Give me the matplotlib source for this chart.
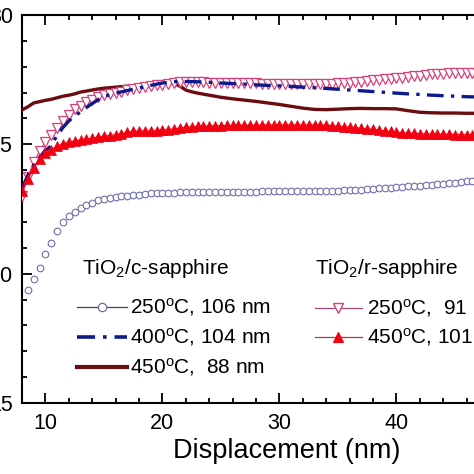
import matplotlib
matplotlib.use("Agg")
import matplotlib.pyplot as plt
from matplotlib.lines import Line2D
from matplotlib.ticker import MultipleLocator

plt.rcParams['font.family'] = ['Liberation Sans', 'DejaVu Sans']
plt.rcParams['mathtext.fontset'] = 'custom'
plt.rcParams['mathtext.rm'] = 'Liberation Sans'
plt.rcParams['mathtext.it'] = 'Liberation Sans:italic'
plt.rcParams['mathtext.bf'] = 'Liberation Sans:bold'

# ---------------- data ----------------
GRID = [8.0, 8.5, 9.0, 9.5, 10.0, 10.5, 11.0, 11.5, 12.0, 12.5, 13.0, 13.5, 14.0, 14.5,
        15.0, 15.5, 16.0, 16.5, 17.0, 17.5, 18.0, 18.5, 19.0, 19.5, 20.0, 20.5, 21.0, 21.5,
        22.0, 22.5, 23.0, 23.5, 24.0, 24.5, 25.0, 25.5, 26.0, 26.5, 27.0, 27.5, 28.0, 28.5,
        29.0, 29.5, 30.0, 30.5, 31.0, 31.5, 32.0, 32.5, 33.0, 33.5, 34.0, 34.5, 35.0, 35.5,
        36.0, 36.5, 37.0, 37.5, 38.0, 38.5, 39.0, 39.5, 40.0, 40.5, 41.0, 41.5, 42.0, 42.5,
        43.0, 43.5, 44.0, 44.5, 45.0, 45.5, 46.0, 46.5, 47.0]

# TiO2/c-sapphire 250C, 106 nm (open circles) - starts at 8.5
c250_x = GRID[1:]
c250_y = [19.35, 19.78, 20.20, 20.75, 21.20, 21.65, 22.00, 22.22, 22.40,
          22.54, 22.65, 22.75, 22.83, 22.88, 22.93, 22.97, 23.00, 23.02,
          23.04, 23.06, 23.08, 23.10, 23.11, 23.12, 23.13, 23.13, 23.14,
          23.14, 23.15, 23.15, 23.15, 23.16, 23.16, 23.16, 23.17, 23.17,
          23.17, 23.17, 23.17, 23.17, 23.18, 23.18, 23.18, 23.18, 23.18,
          23.18, 23.18, 23.19, 23.19, 23.19, 23.20, 23.20, 23.21, 23.21,
          23.22, 23.23, 23.24, 23.25, 23.27, 23.28, 23.30, 23.31, 23.33,
          23.34, 23.35, 23.37, 23.38, 23.40, 23.42, 23.44, 23.46, 23.48,
          23.50, 23.52, 23.55, 23.58, 23.60, 23.62]

# TiO2/r-sapphire 250C, 91 nm (open down triangles)
r250_x = GRID
r250_y = [23.00, 23.75, 24.30, 24.75, 25.10, 25.35, 25.65, 25.90, 26.15,
          26.35, 26.50, 26.62, 26.73, 26.83, 26.91, 26.96, 27.00, 27.04,
          27.10, 27.15, 27.19, 27.22, 27.25, 27.28, 27.30, 27.33, 27.37,
          27.40, 27.42, 27.42, 27.41, 27.40, 27.39, 27.38, 27.38, 27.37,
          27.37, 27.37, 27.36, 27.36, 27.36, 27.35, 27.35, 27.35, 27.34,
          27.34, 27.34, 27.34, 27.33, 27.33, 27.33, 27.33, 27.34, 27.35,
          27.36, 27.37, 27.39, 27.40, 27.42, 27.45, 27.47, 27.49, 27.51,
          27.53, 27.55, 27.58, 27.60, 27.63, 27.65, 27.68, 27.70, 27.71,
          27.73, 27.74, 27.75, 27.75, 27.76, 27.76, 27.77]

# TiO2/r-sapphire 450C, 101 nm (filled up triangles)
r450_x = GRID
r450_y = [23.20, 23.65, 24.10, 24.45, 24.65, 24.80, 24.92, 25.03, 25.08,
          25.13, 25.17, 25.20, 25.24, 25.28, 25.31, 25.34, 25.37, 25.41,
          25.46, 25.50, 25.52, 25.52, 25.52, 25.53, 25.55, 25.57, 25.60,
          25.63, 25.66, 25.68, 25.69, 25.70, 25.71, 25.72, 25.72, 25.73,
          25.73, 25.73, 25.74, 25.74, 25.74, 25.74, 25.75, 25.75, 25.75,
          25.75, 25.75, 25.75, 25.75, 25.75, 25.75, 25.75, 25.74, 25.72,
          25.70, 25.68, 25.66, 25.64, 25.62, 25.60, 25.58, 25.55, 25.52,
          25.50, 25.47, 25.45, 25.43, 25.42, 25.41, 25.41, 25.40, 25.40,
          25.39, 25.39, 25.38, 25.38, 25.37, 25.37, 25.36]

# TiO2/c-sapphire 400C, 104 nm (dash-dot)
c400_x = [8.0, 8.5, 9.0, 9.5, 10.0, 10.5, 11.0, 11.5, 12.0, 12.5, 13.0, 13.5, 14.0, 14.5,
          15.0, 16.0, 17.0, 18.0, 19.0, 20.0, 21.0, 22.0, 23.0, 24.0, 25.0, 26.0, 27.0,
          28.0, 29.0, 30.0, 31.0, 32.0, 33.0, 34.0, 35.0, 36.0, 37.0, 38.0, 39.0, 40.0,
          41.0, 42.0, 43.0, 44.0, 45.0, 46.0, 47.0]
c400_y = [23.30, 23.80, 24.20, 24.50, 24.75, 24.95, 25.35, 25.65, 25.90, 26.10, 26.25,
          26.42, 26.58, 26.72, 26.85, 26.98, 27.08, 27.18, 27.28, 27.37, 27.42, 27.43,
          27.42, 27.40, 27.37, 27.35, 27.33, 27.30, 27.28, 27.26, 27.24, 27.21, 27.19,
          27.16, 27.13, 27.10, 27.07, 27.04, 27.01, 26.98, 26.95, 26.93, 26.90, 26.88,
          26.86, 26.84, 26.83]

# TiO2/c-sapphire 450C, 88 nm (solid)
c450_x = [8.0, 8.5, 9.0, 9.5, 10.0, 10.5, 11.0, 11.5, 12.0, 12.5, 13.0, 13.5, 14.0, 14.5,
          15.0, 16.0, 17.0, 18.0, 19.0, 20.0, 20.5, 21.0, 21.5, 22.0, 22.5, 23.0, 24.0,
          25.0, 26.0, 27.0, 28.0, 29.0, 30.0, 31.0, 32.0, 33.0, 34.0, 35.0, 36.0, 37.0,
          38.0, 39.0, 40.0, 41.0, 42.0, 43.0, 44.0, 45.0, 46.0, 47.0]
c450_y = [26.33, 26.45, 26.60, 26.65, 26.70, 26.74, 26.80, 26.86, 26.90, 26.95, 27.02,
          27.06, 27.10, 27.14, 27.17, 27.21, 27.25, 27.29, 27.33, 27.37, 27.38, 27.35,
          27.25, 27.10, 27.03, 26.98, 26.90, 26.82, 26.76, 26.71, 26.66, 26.60, 26.54,
          26.47, 26.40, 26.35, 26.34, 26.36, 26.38, 26.39, 26.38, 26.38, 26.37, 26.30,
          26.24, 26.22, 26.21, 26.21, 26.20, 26.20]

X_LIM = (8, 50)
Y_LIM = (15, 30)
Y_TICKS = [15, 20, 25, 30]
X_TICKS = [10, 20, 30, 40, 50]

HEAD_C = r"TiO$_2$/c-sapphire"
HEAD_R = r"TiO$_2$/r-sapphire"
LAB_C = [r"250$^\mathrm{o}$C, 106 nm", r"400$^\mathrm{o}$C, 104 nm", r"450$^\mathrm{o}$C,  88 nm"]
LAB_R = [r"250$^\mathrm{o}$C,  91 nm", r"450$^\mathrm{o}$C, 101 nm"]

# ---------------- colours ----------------
COL_C250 = "#6e6eb0"
COL_C400 = "#0c1a8c"
COL_C450 = "#6a0c10"
COL_R250 = "#d8407a"
COL_R450 = "#f00010"

W = H = 474.0
fig = plt.figure(figsize=(4.74, 4.74), dpi=100)

def fx(px):
    return px / W

def fy(py):
    return 1 - py / H

ax_left, ax_top, ax_bot = 22, 15, 403
ax_right = 22 + (X_LIM[1] - X_LIM[0]) * 11.7
ax = fig.add_axes([fx(ax_left), fy(ax_bot), (ax_right - ax_left) / W, (ax_bot - ax_top) / H])

ax.plot(c250_x, c250_y, linestyle='none', marker='o', ms=4.8, mfc='white',
        mec=COL_C250, mew=0.8, zorder=2)
ax.plot(c450_x, c450_y, color=COL_C450, lw=2.4, zorder=3)
ax.plot(r250_x, r250_y, color=COL_R250, lw=0.8, marker='v', ms=6.5, mfc='white',
        mec=COL_R250, mew=0.9, zorder=4)
ax.plot(c400_x, c400_y, color=COL_C400, lw=2.4, linestyle=(0, (5, 2.2, 1, 2.2)), zorder=5)
ax.plot(r450_x, r450_y, color=COL_R450, lw=0.8, marker='^', ms=7, mfc=COL_R450,
        mec=COL_R450, mew=0.5, zorder=6)

ax.set_xlim(*X_LIM)
ax.set_ylim(*Y_LIM)
ax.set_xticks(X_TICKS)
ax.set_yticks(Y_TICKS)
ax.xaxis.set_minor_locator(MultipleLocator(2))
ax.yaxis.set_minor_locator(MultipleLocator(1))
ax.tick_params(which='both', direction='in', top=True, right=True, width=1.3,
               labelsize=15.5, colors='black')
ax.tick_params(which='major', length=7)
ax.tick_params(which='minor', length=3.6)
ax.tick_params(axis='x', which='major', pad=7)
ax.tick_params(axis='y', which='major', pad=6.5)
for s in ax.spines.values():
    s.set_linewidth(1.5)

fig.text(fx(287), fy(451), "Displacement (nm)", ha='center', va='center', fontsize=19.5)

# ---------------- legend drawn by hand ----------------
FS = 15
fig.text(fx(82), fy(268), HEAD_C, ha='left', va='center', fontsize=FS)
fig.text(fx(315), fy(268), HEAD_R, ha='left', va='center', fontsize=FS)

rows_c = [307, 337, 367]
fig.add_artist(Line2D([fx(77), fx(127)], [fy(rows_c[0])] * 2, color='#444444', lw=0.9))
fig.add_artist(Line2D([fx(102)], [fy(rows_c[0])], marker='o', ms=6, mfc='white',
                      mec=COL_C250, mew=0.9, linestyle='none'))
fig.add_artist(Line2D([fx(77), fx(127)], [fy(rows_c[1])] * 2, color=COL_C400, lw=2.6,
                      linestyle=(0, (5, 2.2, 1, 2.2))))
fig.add_artist(Line2D([fx(77), fx(127)], [fy(rows_c[2])] * 2, color=COL_C450, lw=3))
for r, t in zip(rows_c, LAB_C):
    fig.text(fx(130), fy(r), t, ha='left', va='center', fontsize=FS)

rows_r = [308, 337]
fig.add_artist(Line2D([fx(315), fx(362)], [fy(rows_r[0])] * 2, color='#a04a7a', lw=0.9))
fig.add_artist(Line2D([fx(338)], [fy(rows_r[0])], marker='v', ms=7, mfc='white',
                      mec=COL_R250, mew=1.0, linestyle='none'))
fig.add_artist(Line2D([fx(315), fx(362)], [fy(rows_r[1])] * 2, color='#c03040', lw=0.9))
fig.add_artist(Line2D([fx(338)], [fy(rows_r[1])], marker='^', ms=7, mfc=COL_R450,
                      mec=COL_R450, mew=0.8, linestyle='none'))
for r, t in zip(rows_r, LAB_R):
    fig.text(fx(367), fy(r), t, ha='left', va='center', fontsize=FS)

fig.savefig("out.png", dpi=100)
